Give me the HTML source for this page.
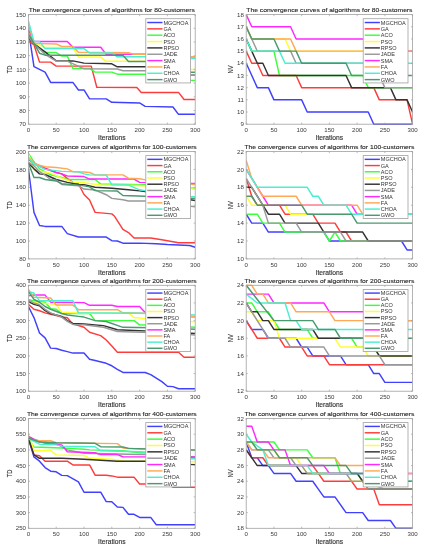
<!DOCTYPE html><html><head><meta charset="utf-8"><style>html,body{margin:0;padding:0;background:#fff;width:423px;height:550px;overflow:hidden}svg{display:block;will-change:transform}text{font-family:"Liberation Sans",sans-serif}</style></head><body>
<svg width="423" height="550" viewBox="0 0 423 550"><rect width="423" height="550" fill="#fff"/>
<g><clipPath id="c0"><rect x="28.4" y="13.6" width="166.8" height="111.6"/></clipPath><g clip-path="url(#c0)" fill="none" stroke-width="1.45" stroke-linejoin="round"><polyline stroke="#4040ff" points="28.4,29.67 33.96,66.66 45.08,72.14 50.64,82.41 72.88,82.41 78.44,89.95 84,89.95 89.56,98.86 106.24,98.86 111.8,102.28 139.6,102.97 145.16,106.39 172.96,106.94 178.52,114.34 195.2,114.34"/><polyline stroke="#ff3c3c" points="28.4,41.31 33.96,44.74 39.52,62.14 50.64,62.14 56.2,66.11 91.23,66.11 96.79,87.21 136.82,87.48 141.27,92.42 178.52,92.42 184.08,99.54 195.2,99.54"/><polyline stroke="#3cff3c" points="28.4,35.15 33.96,43.37 45.08,52.55 56.2,52.55 61.76,56.11 67.32,56.11 72.88,68.44 89.56,68.44 95.12,72.14 111.8,72.14 117.36,74.19 167.4,74.19 172.96,80.36 195.2,80.36"/><polyline stroke="#ffff30" points="28.4,32.41 33.96,42.68 45.08,47.48 72.88,47.48 78.44,57.07 100.68,57.07 106.24,61.32 167.4,61.32 172.96,69.4 195.2,69.4"/><polyline stroke="#333333" points="28.4,37.34 33.96,43.92 45.08,51.86 56.2,60.91 72.88,60.91 84,63.1 111.8,63.78 117.36,66.8 167.4,66.8 172.96,74.88 195.2,74.88"/><polyline stroke="#999999" points="28.4,36.52 33.96,44.05 45.08,54.33 56.2,61.18 67.32,61.18 84,68.85 117.36,68.99 122.92,70.77 167.4,70.77 172.96,74.74 195.2,74.74"/><polyline stroke="#ff28ff" points="28.4,29.67 33.96,41.59 39.52,41.59 67.32,41.59 72.88,47.21 100.68,47.21 106.24,54.33 167.4,54.33 172.96,56.8 195.2,56.8"/><polyline stroke="#ffa858" points="28.4,24.87 33.96,43.37 56.2,43.92 61.76,46.52 72.88,46.52 78.44,52.28 128.48,52.69 134.04,54.33 167.4,54.33 172.96,56.8 195.2,56.8"/><polyline stroke="#48f0d0" points="28.4,20.9 33.96,41.59 39.52,41.59 45.08,48.58 84,48.58 89.56,52.96 111.8,52.96 117.36,56.8 167.4,56.8 172.96,58.58 195.2,58.58"/><polyline stroke="#4a9a70" points="28.4,33.78 33.96,43.37 39.52,53.23 45.08,55.15 122.92,55.15 128.48,61.45 167.4,61.45 172.96,72.28 195.2,72.28"/></g><rect x="28.4" y="14.6" width="166.8" height="109.6" fill="none" stroke="#a0a0a0" stroke-width="0.8"/><path d="M28.4 124.2V122.6M28.4 14.6V16.2" stroke="#a0a0a0" stroke-width="0.7"/><text x="28.4" y="132.2" font-size="6.1" fill="#3a3a3a" text-anchor="middle">0</text><path d="M56.2 124.2V122.6M56.2 14.6V16.2" stroke="#a0a0a0" stroke-width="0.7"/><text x="56.2" y="132.2" font-size="6.1" fill="#3a3a3a" text-anchor="middle">50</text><path d="M84 124.2V122.6M84 14.6V16.2" stroke="#a0a0a0" stroke-width="0.7"/><text x="84" y="132.2" font-size="6.1" fill="#3a3a3a" text-anchor="middle">100</text><path d="M111.8 124.2V122.6M111.8 14.6V16.2" stroke="#a0a0a0" stroke-width="0.7"/><text x="111.8" y="132.2" font-size="6.1" fill="#3a3a3a" text-anchor="middle">150</text><path d="M139.6 124.2V122.6M139.6 14.6V16.2" stroke="#a0a0a0" stroke-width="0.7"/><text x="139.6" y="132.2" font-size="6.1" fill="#3a3a3a" text-anchor="middle">200</text><path d="M167.4 124.2V122.6M167.4 14.6V16.2" stroke="#a0a0a0" stroke-width="0.7"/><text x="167.4" y="132.2" font-size="6.1" fill="#3a3a3a" text-anchor="middle">250</text><path d="M195.2 124.2V122.6M195.2 14.6V16.2" stroke="#a0a0a0" stroke-width="0.7"/><text x="195.2" y="132.2" font-size="6.1" fill="#3a3a3a" text-anchor="middle">300</text><path d="M28.4 124.2H30M195.2 124.2H193.6" stroke="#a0a0a0" stroke-width="0.7"/><text x="26" y="126.3" font-size="6.1" fill="#3a3a3a" text-anchor="end">70</text><path d="M28.4 110.5H30M195.2 110.5H193.6" stroke="#a0a0a0" stroke-width="0.7"/><text x="26" y="112.6" font-size="6.1" fill="#3a3a3a" text-anchor="end">80</text><path d="M28.4 96.8H30M195.2 96.8H193.6" stroke="#a0a0a0" stroke-width="0.7"/><text x="26" y="98.9" font-size="6.1" fill="#3a3a3a" text-anchor="end">90</text><path d="M28.4 83.1H30M195.2 83.1H193.6" stroke="#a0a0a0" stroke-width="0.7"/><text x="26" y="85.2" font-size="6.1" fill="#3a3a3a" text-anchor="end">100</text><path d="M28.4 69.4H30M195.2 69.4H193.6" stroke="#a0a0a0" stroke-width="0.7"/><text x="26" y="71.5" font-size="6.1" fill="#3a3a3a" text-anchor="end">110</text><path d="M28.4 55.7H30M195.2 55.7H193.6" stroke="#a0a0a0" stroke-width="0.7"/><text x="26" y="57.8" font-size="6.1" fill="#3a3a3a" text-anchor="end">120</text><path d="M28.4 42H30M195.2 42H193.6" stroke="#a0a0a0" stroke-width="0.7"/><text x="26" y="44.1" font-size="6.1" fill="#3a3a3a" text-anchor="end">130</text><path d="M28.4 28.3H30M195.2 28.3H193.6" stroke="#a0a0a0" stroke-width="0.7"/><text x="26" y="30.4" font-size="6.1" fill="#3a3a3a" text-anchor="end">140</text><path d="M28.4 14.6H30M195.2 14.6H193.6" stroke="#a0a0a0" stroke-width="0.7"/><text x="26" y="16.7" font-size="6.1" fill="#3a3a3a" text-anchor="end">150</text><text transform="translate(111.8,12.3) scale(1.162,1)" font-size="5.8" fill="#222" stroke="#222" stroke-width="0.1" text-anchor="middle">The convergence curves of algorithms for 80-customers</text><text x="111.8" y="140" font-size="6.7" fill="#333" stroke="#333" stroke-width="0.14" text-anchor="middle">Iterations</text><text transform="translate(12.1,69.4) rotate(-90)" font-size="6.9" textLength="7.6" lengthAdjust="spacingAndGlyphs" x="-3.8" fill="#333" stroke="#333" stroke-width="0.14">TD</text><rect x="145.8" y="18.7" width="44.8" height="64.23" fill="#fff" stroke="#a0a0a0" stroke-width="0.8"/><line x1="147.3" y1="22.52" x2="162.5" y2="22.52" stroke="#4040ff" stroke-width="1.45"/><text x="163.4" y="24.52" font-size="5.55" fill="#333">MGCHOA</text><line x1="147.3" y1="28.86" x2="162.5" y2="28.86" stroke="#ff3c3c" stroke-width="1.45"/><text x="163.4" y="30.86" font-size="5.55" fill="#333">GA</text><line x1="147.3" y1="35.21" x2="162.5" y2="35.21" stroke="#3cff3c" stroke-width="1.45"/><text x="163.4" y="37.21" font-size="5.55" fill="#333">ACO</text><line x1="147.3" y1="41.55" x2="162.5" y2="41.55" stroke="#ffff30" stroke-width="1.45"/><text x="163.4" y="43.55" font-size="5.55" fill="#333">PSO</text><line x1="147.3" y1="47.9" x2="162.5" y2="47.9" stroke="#333333" stroke-width="1.45"/><text x="163.4" y="49.9" font-size="5.55" fill="#333">RPSO</text><line x1="147.3" y1="54.24" x2="162.5" y2="54.24" stroke="#999999" stroke-width="1.45"/><text x="163.4" y="56.24" font-size="5.55" fill="#333">JADE</text><line x1="147.3" y1="60.59" x2="162.5" y2="60.59" stroke="#ff28ff" stroke-width="1.45"/><text x="163.4" y="62.59" font-size="5.55" fill="#333">SMA</text><line x1="147.3" y1="66.93" x2="162.5" y2="66.93" stroke="#ffa858" stroke-width="1.45"/><text x="163.4" y="68.93" font-size="5.55" fill="#333">FA</text><line x1="147.3" y1="73.28" x2="162.5" y2="73.28" stroke="#48f0d0" stroke-width="1.45"/><text x="163.4" y="75.28" font-size="5.55" fill="#333">CHOA</text><line x1="147.3" y1="79.62" x2="162.5" y2="79.62" stroke="#4a9a70" stroke-width="1.45"/><text x="163.4" y="81.62" font-size="5.55" fill="#333">GWO</text></g>
<g><clipPath id="c1"><rect x="246.2" y="13.6" width="166.4" height="111.6"/></clipPath><g clip-path="url(#c1)" fill="none" stroke-width="1.45" stroke-linejoin="round"><polyline stroke="#4040ff" points="246.2,63.31 257.29,87.67 268.39,87.67 273.93,99.84 301.67,99.84 307.21,112.02 368.23,112.02 373.77,124.2 412.6,124.2"/><polyline stroke="#ff3c3c" points="246.2,51.13 251.75,63.31 257.29,63.31 262.84,75.49 296.12,75.49 301.67,87.67 373.77,87.67 379.32,99.84 407.05,99.84 412.6,124.2"/><polyline stroke="#3cff3c" points="246.2,38.96 251.75,51.13 273.93,51.13 279.48,75.49 362.68,75.49 368.23,87.67 412.6,87.67"/><polyline stroke="#ffff30" points="246.2,26.78 251.75,38.96 285.03,38.96 290.57,51.13 412.6,51.13"/><polyline stroke="#333333" points="246.2,38.96 251.75,51.13 257.29,63.31 262.84,63.31 268.39,75.49 346.04,75.49 351.59,87.67 390.41,87.67 395.96,99.84 407.05,99.84 412.6,112.02"/><polyline stroke="#999999" points="246.2,26.78 251.75,38.96 257.29,51.13 290.57,51.13 296.12,63.31 373.77,63.31 379.32,75.49 384.87,87.67 412.6,87.67"/><polyline stroke="#ff28ff" points="246.2,14.6 251.75,26.78 290.57,26.78 296.12,38.96 384.87,38.96 390.41,51.13 412.6,51.13"/><polyline stroke="#ffa858" points="246.2,26.78 251.75,38.96 290.57,38.96 296.12,51.13 412.6,51.13"/><polyline stroke="#48f0d0" points="246.2,38.96 251.75,51.13 279.48,51.13 285.03,63.31 412.6,63.31"/><polyline stroke="#4a9a70" points="246.2,26.78 251.75,38.96 273.93,38.96 279.48,51.13 296.12,51.13 301.67,63.31 346.04,63.31 351.59,75.49 412.6,75.49"/></g><rect x="246.2" y="14.6" width="166.4" height="109.6" fill="none" stroke="#a0a0a0" stroke-width="0.8"/><path d="M246.2 124.2V122.6M246.2 14.6V16.2" stroke="#a0a0a0" stroke-width="0.7"/><text x="246.2" y="132.2" font-size="6.1" fill="#3a3a3a" text-anchor="middle">0</text><path d="M273.93 124.2V122.6M273.93 14.6V16.2" stroke="#a0a0a0" stroke-width="0.7"/><text x="273.93" y="132.2" font-size="6.1" fill="#3a3a3a" text-anchor="middle">50</text><path d="M301.67 124.2V122.6M301.67 14.6V16.2" stroke="#a0a0a0" stroke-width="0.7"/><text x="301.67" y="132.2" font-size="6.1" fill="#3a3a3a" text-anchor="middle">100</text><path d="M329.4 124.2V122.6M329.4 14.6V16.2" stroke="#a0a0a0" stroke-width="0.7"/><text x="329.4" y="132.2" font-size="6.1" fill="#3a3a3a" text-anchor="middle">150</text><path d="M357.13 124.2V122.6M357.13 14.6V16.2" stroke="#a0a0a0" stroke-width="0.7"/><text x="357.13" y="132.2" font-size="6.1" fill="#3a3a3a" text-anchor="middle">200</text><path d="M384.87 124.2V122.6M384.87 14.6V16.2" stroke="#a0a0a0" stroke-width="0.7"/><text x="384.87" y="132.2" font-size="6.1" fill="#3a3a3a" text-anchor="middle">250</text><path d="M412.6 124.2V122.6M412.6 14.6V16.2" stroke="#a0a0a0" stroke-width="0.7"/><text x="412.6" y="132.2" font-size="6.1" fill="#3a3a3a" text-anchor="middle">300</text><path d="M246.2 124.2H247.8M412.6 124.2H411" stroke="#a0a0a0" stroke-width="0.7"/><text x="243.8" y="126.3" font-size="6.1" fill="#3a3a3a" text-anchor="end">9</text><path d="M246.2 112.02H247.8M412.6 112.02H411" stroke="#a0a0a0" stroke-width="0.7"/><text x="243.8" y="114.12" font-size="6.1" fill="#3a3a3a" text-anchor="end">10</text><path d="M246.2 99.84H247.8M412.6 99.84H411" stroke="#a0a0a0" stroke-width="0.7"/><text x="243.8" y="101.94" font-size="6.1" fill="#3a3a3a" text-anchor="end">11</text><path d="M246.2 87.67H247.8M412.6 87.67H411" stroke="#a0a0a0" stroke-width="0.7"/><text x="243.8" y="89.77" font-size="6.1" fill="#3a3a3a" text-anchor="end">12</text><path d="M246.2 75.49H247.8M412.6 75.49H411" stroke="#a0a0a0" stroke-width="0.7"/><text x="243.8" y="77.59" font-size="6.1" fill="#3a3a3a" text-anchor="end">13</text><path d="M246.2 63.31H247.8M412.6 63.31H411" stroke="#a0a0a0" stroke-width="0.7"/><text x="243.8" y="65.41" font-size="6.1" fill="#3a3a3a" text-anchor="end">14</text><path d="M246.2 51.13H247.8M412.6 51.13H411" stroke="#a0a0a0" stroke-width="0.7"/><text x="243.8" y="53.23" font-size="6.1" fill="#3a3a3a" text-anchor="end">15</text><path d="M246.2 38.96H247.8M412.6 38.96H411" stroke="#a0a0a0" stroke-width="0.7"/><text x="243.8" y="41.06" font-size="6.1" fill="#3a3a3a" text-anchor="end">16</text><path d="M246.2 26.78H247.8M412.6 26.78H411" stroke="#a0a0a0" stroke-width="0.7"/><text x="243.8" y="28.88" font-size="6.1" fill="#3a3a3a" text-anchor="end">17</text><path d="M246.2 14.6H247.8M412.6 14.6H411" stroke="#a0a0a0" stroke-width="0.7"/><text x="243.8" y="16.7" font-size="6.1" fill="#3a3a3a" text-anchor="end">18</text><text transform="translate(329.4,12.3) scale(1.162,1)" font-size="5.8" fill="#222" stroke="#222" stroke-width="0.1" text-anchor="middle">The convergence curves of algorithms for 80-customers</text><text x="329.4" y="140" font-size="6.7" fill="#333" stroke="#333" stroke-width="0.14" text-anchor="middle">Iterations</text><text transform="translate(233.3,69.4) rotate(-90)" font-size="6.9" textLength="8.0" lengthAdjust="spacingAndGlyphs" x="-4.0" fill="#333" stroke="#333" stroke-width="0.14">NV</text><rect x="363.2" y="18.7" width="44.8" height="64.23" fill="#fff" stroke="#a0a0a0" stroke-width="0.8"/><line x1="364.7" y1="22.52" x2="379.9" y2="22.52" stroke="#4040ff" stroke-width="1.45"/><text x="380.8" y="24.52" font-size="5.55" fill="#333">MGCHOA</text><line x1="364.7" y1="28.86" x2="379.9" y2="28.86" stroke="#ff3c3c" stroke-width="1.45"/><text x="380.8" y="30.86" font-size="5.55" fill="#333">GA</text><line x1="364.7" y1="35.21" x2="379.9" y2="35.21" stroke="#3cff3c" stroke-width="1.45"/><text x="380.8" y="37.21" font-size="5.55" fill="#333">ACO</text><line x1="364.7" y1="41.55" x2="379.9" y2="41.55" stroke="#ffff30" stroke-width="1.45"/><text x="380.8" y="43.55" font-size="5.55" fill="#333">PSO</text><line x1="364.7" y1="47.9" x2="379.9" y2="47.9" stroke="#333333" stroke-width="1.45"/><text x="380.8" y="49.9" font-size="5.55" fill="#333">RPSO</text><line x1="364.7" y1="54.24" x2="379.9" y2="54.24" stroke="#999999" stroke-width="1.45"/><text x="380.8" y="56.24" font-size="5.55" fill="#333">JADE</text><line x1="364.7" y1="60.59" x2="379.9" y2="60.59" stroke="#ff28ff" stroke-width="1.45"/><text x="380.8" y="62.59" font-size="5.55" fill="#333">SMA</text><line x1="364.7" y1="66.93" x2="379.9" y2="66.93" stroke="#ffa858" stroke-width="1.45"/><text x="380.8" y="68.93" font-size="5.55" fill="#333">FA</text><line x1="364.7" y1="73.28" x2="379.9" y2="73.28" stroke="#48f0d0" stroke-width="1.45"/><text x="380.8" y="75.28" font-size="5.55" fill="#333">CHOA</text><line x1="364.7" y1="79.62" x2="379.9" y2="79.62" stroke="#4a9a70" stroke-width="1.45"/><text x="380.8" y="81.62" font-size="5.55" fill="#333">GWO</text></g>
<g><clipPath id="c2"><rect x="28.4" y="150.5" width="166.8" height="109.4"/></clipPath><g clip-path="url(#c2)" fill="none" stroke-width="1.45" stroke-linejoin="round"><polyline stroke="#4040ff" points="28.4,168.5 33.96,212.36 39.52,225.43 45.08,226.41 61.76,226.41 67.32,233.57 78.44,237.06 106.24,237.06 111.8,240.73 117.36,241 122.92,243.15 139.6,243.15 156.28,243.68 167.4,244.58 178.52,245.03 189.64,245.47 195.2,247.26"/><polyline stroke="#ff3c3c" points="28.4,163.13 33.96,164.03 39.52,165.82 45.08,168.06 56.2,172.44 61.76,173.88 67.32,178.35 72.88,182.38 78.44,183.72 84,194.46 89.56,200.01 95.12,212.36 111.8,213.88 114.58,216.3 122.92,229.36 128.48,232.59 134.04,238.05 150.72,238.05 161.84,239.84 178.52,242.79 195.2,242.79"/><polyline stroke="#3cff3c" points="28.4,153.29 33.96,161.79 39.52,168.86 50.64,174.77 61.76,177.45 67.32,179.51 95.12,179.51 100.68,183.99 145.16,184.61 172.96,187.3 195.2,188.19"/><polyline stroke="#ffff30" points="28.4,154.19 33.96,169.4 39.52,171.01 50.64,173.16 61.76,178.08 72.88,182.38 84,182.82 100.68,185.06 139.6,185.51 172.96,187.75 195.2,189.27"/><polyline stroke="#333333" points="28.4,163.13 33.96,168.86 39.52,173.88 45.08,174.5 56.2,179.51 67.32,182.38 78.44,184.44 84,184.61 95.12,187.3 111.8,188.19 128.48,189.81 139.6,190.88 145.16,191.42 167.4,196.25 195.2,200.46"/><polyline stroke="#999999" points="28.4,162.24 33.96,165.82 39.52,171.73 45.08,175.22 50.64,179.51 56.2,180.14 61.76,184.44 78.44,185.87 84,189.09 95.12,189.99 106.24,194.73 111.8,198.4 122.92,199.83 128.48,200.99 145.16,200.99 195.2,206.81"/><polyline stroke="#ff28ff" points="28.4,159.56 33.96,163.13 39.52,166 45.08,168.86 56.2,172.44 61.76,173.88 67.32,175.93 84,176.56 89.56,179.07 134.04,179.07 139.6,182.38 172.96,183.45 195.2,183.45"/><polyline stroke="#ffa858" points="28.4,157.5 33.96,163.13 39.52,165.28 45.08,166.72 56.2,167.43 67.32,168.86 72.88,171.73 84,172.08 89.56,172.53 95.12,174.86 122.92,174.86 128.48,178.17 139.6,178.8 145.16,179.87 172.96,183.72 195.2,184.44"/><polyline stroke="#48f0d0" points="28.4,157.76 33.96,164.03 39.52,166.72 45.08,169.4 61.76,171.37 78.44,171.73 84,173.88 89.56,174.86 106.24,175.13 111.8,184.79 128.48,185.06 139.6,189.81 145.16,190.61 172.96,196.25 195.2,196.79"/><polyline stroke="#4a9a70" points="28.4,163.13 33.96,177.45 39.52,177.45 45.08,179.51 56.2,180.95 61.76,183.72 78.44,185.15 84,185.87 89.56,186.85 95.12,190.61 117.36,191.06 122.92,195.53 145.16,196.25 172.96,198.04 195.2,198.58"/></g><rect x="28.4" y="151.5" width="166.8" height="107.4" fill="none" stroke="#a0a0a0" stroke-width="0.8"/><path d="M28.4 258.9V257.3M28.4 151.5V153.1" stroke="#a0a0a0" stroke-width="0.7"/><text x="28.4" y="266.9" font-size="6.1" fill="#3a3a3a" text-anchor="middle">0</text><path d="M56.2 258.9V257.3M56.2 151.5V153.1" stroke="#a0a0a0" stroke-width="0.7"/><text x="56.2" y="266.9" font-size="6.1" fill="#3a3a3a" text-anchor="middle">50</text><path d="M84 258.9V257.3M84 151.5V153.1" stroke="#a0a0a0" stroke-width="0.7"/><text x="84" y="266.9" font-size="6.1" fill="#3a3a3a" text-anchor="middle">100</text><path d="M111.8 258.9V257.3M111.8 151.5V153.1" stroke="#a0a0a0" stroke-width="0.7"/><text x="111.8" y="266.9" font-size="6.1" fill="#3a3a3a" text-anchor="middle">150</text><path d="M139.6 258.9V257.3M139.6 151.5V153.1" stroke="#a0a0a0" stroke-width="0.7"/><text x="139.6" y="266.9" font-size="6.1" fill="#3a3a3a" text-anchor="middle">200</text><path d="M167.4 258.9V257.3M167.4 151.5V153.1" stroke="#a0a0a0" stroke-width="0.7"/><text x="167.4" y="266.9" font-size="6.1" fill="#3a3a3a" text-anchor="middle">250</text><path d="M195.2 258.9V257.3M195.2 151.5V153.1" stroke="#a0a0a0" stroke-width="0.7"/><text x="195.2" y="266.9" font-size="6.1" fill="#3a3a3a" text-anchor="middle">300</text><path d="M28.4 258.9H30M195.2 258.9H193.6" stroke="#a0a0a0" stroke-width="0.7"/><text x="26" y="261" font-size="6.1" fill="#3a3a3a" text-anchor="end">80</text><path d="M28.4 241H30M195.2 241H193.6" stroke="#a0a0a0" stroke-width="0.7"/><text x="26" y="243.1" font-size="6.1" fill="#3a3a3a" text-anchor="end">100</text><path d="M28.4 223.1H30M195.2 223.1H193.6" stroke="#a0a0a0" stroke-width="0.7"/><text x="26" y="225.2" font-size="6.1" fill="#3a3a3a" text-anchor="end">120</text><path d="M28.4 205.2H30M195.2 205.2H193.6" stroke="#a0a0a0" stroke-width="0.7"/><text x="26" y="207.3" font-size="6.1" fill="#3a3a3a" text-anchor="end">140</text><path d="M28.4 187.3H30M195.2 187.3H193.6" stroke="#a0a0a0" stroke-width="0.7"/><text x="26" y="189.4" font-size="6.1" fill="#3a3a3a" text-anchor="end">160</text><path d="M28.4 169.4H30M195.2 169.4H193.6" stroke="#a0a0a0" stroke-width="0.7"/><text x="26" y="171.5" font-size="6.1" fill="#3a3a3a" text-anchor="end">180</text><path d="M28.4 151.5H30M195.2 151.5H193.6" stroke="#a0a0a0" stroke-width="0.7"/><text x="26" y="153.6" font-size="6.1" fill="#3a3a3a" text-anchor="end">200</text><text transform="translate(111.8,149.2) scale(1.162,1)" font-size="5.8" fill="#222" stroke="#222" stroke-width="0.1" text-anchor="middle">The convergence curves of algorithms for 100-customers</text><text x="111.8" y="274.7" font-size="6.7" fill="#333" stroke="#333" stroke-width="0.14" text-anchor="middle">Iterations</text><text transform="translate(12.1,205.2) rotate(-90)" font-size="6.9" textLength="7.6" lengthAdjust="spacingAndGlyphs" x="-3.8" fill="#333" stroke="#333" stroke-width="0.14">TD</text><rect x="145.8" y="155.6" width="44.8" height="62.94" fill="#fff" stroke="#a0a0a0" stroke-width="0.8"/><line x1="147.3" y1="159.34" x2="162.5" y2="159.34" stroke="#4040ff" stroke-width="1.45"/><text x="163.4" y="161.34" font-size="5.55" fill="#333">MGCHOA</text><line x1="147.3" y1="165.56" x2="162.5" y2="165.56" stroke="#ff3c3c" stroke-width="1.45"/><text x="163.4" y="167.56" font-size="5.55" fill="#333">GA</text><line x1="147.3" y1="171.77" x2="162.5" y2="171.77" stroke="#3cff3c" stroke-width="1.45"/><text x="163.4" y="173.77" font-size="5.55" fill="#333">ACO</text><line x1="147.3" y1="177.99" x2="162.5" y2="177.99" stroke="#ffff30" stroke-width="1.45"/><text x="163.4" y="179.99" font-size="5.55" fill="#333">PSO</text><line x1="147.3" y1="184.21" x2="162.5" y2="184.21" stroke="#333333" stroke-width="1.45"/><text x="163.4" y="186.21" font-size="5.55" fill="#333">RPSO</text><line x1="147.3" y1="190.43" x2="162.5" y2="190.43" stroke="#999999" stroke-width="1.45"/><text x="163.4" y="192.43" font-size="5.55" fill="#333">JADE</text><line x1="147.3" y1="196.65" x2="162.5" y2="196.65" stroke="#ff28ff" stroke-width="1.45"/><text x="163.4" y="198.65" font-size="5.55" fill="#333">SMA</text><line x1="147.3" y1="202.87" x2="162.5" y2="202.87" stroke="#ffa858" stroke-width="1.45"/><text x="163.4" y="204.87" font-size="5.55" fill="#333">FA</text><line x1="147.3" y1="209.08" x2="162.5" y2="209.08" stroke="#48f0d0" stroke-width="1.45"/><text x="163.4" y="211.08" font-size="5.55" fill="#333">CHOA</text><line x1="147.3" y1="215.3" x2="162.5" y2="215.3" stroke="#4a9a70" stroke-width="1.45"/><text x="163.4" y="217.3" font-size="5.55" fill="#333">GWO</text></g>
<g><clipPath id="c3"><rect x="246.2" y="150.5" width="166.4" height="109.4"/></clipPath><g clip-path="url(#c3)" fill="none" stroke-width="1.45" stroke-linejoin="round"><polyline stroke="#4040ff" points="246.2,214.15 251.75,223.1 262.84,223.1 268.39,232.05 323.85,232.05 329.4,241 401.51,241 407.05,249.95 412.6,249.95"/><polyline stroke="#ff3c3c" points="246.2,178.35 251.75,196.25 257.29,205.2 279.48,205.2 285.03,214.15 312.76,214.15 318.31,223.1 334.95,223.1 340.49,232.05 346.04,232.05 351.59,241 412.6,241"/><polyline stroke="#3cff3c" points="246.2,214.15 257.29,214.15 262.84,223.1 279.48,223.1 285.03,232.05 323.85,232.05 329.4,241 334.95,232.05 340.49,241 412.6,241"/><polyline stroke="#ffff30" points="246.2,196.25 251.75,205.2 285.03,205.2 290.57,214.15 412.6,214.15"/><polyline stroke="#333333" points="246.2,187.3 251.75,187.3 262.84,205.2 268.39,214.15 279.48,214.15 285.03,223.1 318.31,223.1 323.85,232.05 362.68,232.05 368.23,241 412.6,241"/><polyline stroke="#999999" points="246.2,178.35 262.84,205.2 268.39,223.1 296.12,223.1 301.67,232.05 340.49,232.05 346.04,241 412.6,241"/><polyline stroke="#ff28ff" points="246.2,169.4 257.29,187.3 262.84,196.25 268.39,205.2 351.59,205.2 357.13,214.15 412.6,214.15"/><polyline stroke="#ffa858" points="246.2,160.45 251.75,178.35 262.84,196.25 296.12,196.25 301.67,205.2 357.13,205.2 362.68,214.15 412.6,214.15"/><polyline stroke="#48f0d0" points="246.2,169.4 257.29,187.3 307.21,187.3 312.76,196.25 318.31,196.25 323.85,205.2 346.04,205.2 351.59,214.15 412.6,214.15"/><polyline stroke="#4a9a70" points="246.2,196.25 251.75,196.25 257.29,205.2 301.67,205.2 307.21,214.15 351.59,214.15 357.13,223.1 412.6,223.1"/></g><rect x="246.2" y="151.5" width="166.4" height="107.4" fill="none" stroke="#a0a0a0" stroke-width="0.8"/><path d="M246.2 258.9V257.3M246.2 151.5V153.1" stroke="#a0a0a0" stroke-width="0.7"/><text x="246.2" y="266.9" font-size="6.1" fill="#3a3a3a" text-anchor="middle">0</text><path d="M273.93 258.9V257.3M273.93 151.5V153.1" stroke="#a0a0a0" stroke-width="0.7"/><text x="273.93" y="266.9" font-size="6.1" fill="#3a3a3a" text-anchor="middle">50</text><path d="M301.67 258.9V257.3M301.67 151.5V153.1" stroke="#a0a0a0" stroke-width="0.7"/><text x="301.67" y="266.9" font-size="6.1" fill="#3a3a3a" text-anchor="middle">100</text><path d="M329.4 258.9V257.3M329.4 151.5V153.1" stroke="#a0a0a0" stroke-width="0.7"/><text x="329.4" y="266.9" font-size="6.1" fill="#3a3a3a" text-anchor="middle">150</text><path d="M357.13 258.9V257.3M357.13 151.5V153.1" stroke="#a0a0a0" stroke-width="0.7"/><text x="357.13" y="266.9" font-size="6.1" fill="#3a3a3a" text-anchor="middle">200</text><path d="M384.87 258.9V257.3M384.87 151.5V153.1" stroke="#a0a0a0" stroke-width="0.7"/><text x="384.87" y="266.9" font-size="6.1" fill="#3a3a3a" text-anchor="middle">250</text><path d="M412.6 258.9V257.3M412.6 151.5V153.1" stroke="#a0a0a0" stroke-width="0.7"/><text x="412.6" y="266.9" font-size="6.1" fill="#3a3a3a" text-anchor="middle">300</text><path d="M246.2 258.9H247.8M412.6 258.9H411" stroke="#a0a0a0" stroke-width="0.7"/><text x="243.8" y="261" font-size="6.1" fill="#3a3a3a" text-anchor="end">10</text><path d="M246.2 241H247.8M412.6 241H411" stroke="#a0a0a0" stroke-width="0.7"/><text x="243.8" y="243.1" font-size="6.1" fill="#3a3a3a" text-anchor="end">12</text><path d="M246.2 223.1H247.8M412.6 223.1H411" stroke="#a0a0a0" stroke-width="0.7"/><text x="243.8" y="225.2" font-size="6.1" fill="#3a3a3a" text-anchor="end">14</text><path d="M246.2 205.2H247.8M412.6 205.2H411" stroke="#a0a0a0" stroke-width="0.7"/><text x="243.8" y="207.3" font-size="6.1" fill="#3a3a3a" text-anchor="end">16</text><path d="M246.2 187.3H247.8M412.6 187.3H411" stroke="#a0a0a0" stroke-width="0.7"/><text x="243.8" y="189.4" font-size="6.1" fill="#3a3a3a" text-anchor="end">18</text><path d="M246.2 169.4H247.8M412.6 169.4H411" stroke="#a0a0a0" stroke-width="0.7"/><text x="243.8" y="171.5" font-size="6.1" fill="#3a3a3a" text-anchor="end">20</text><path d="M246.2 151.5H247.8M412.6 151.5H411" stroke="#a0a0a0" stroke-width="0.7"/><text x="243.8" y="153.6" font-size="6.1" fill="#3a3a3a" text-anchor="end">22</text><text transform="translate(329.4,149.2) scale(1.162,1)" font-size="5.8" fill="#222" stroke="#222" stroke-width="0.1" text-anchor="middle">The convergence curves of algorithms for 100-customers</text><text x="329.4" y="274.7" font-size="6.7" fill="#333" stroke="#333" stroke-width="0.14" text-anchor="middle">Iterations</text><text transform="translate(233.3,205.2) rotate(-90)" font-size="6.9" textLength="8.0" lengthAdjust="spacingAndGlyphs" x="-4.0" fill="#333" stroke="#333" stroke-width="0.14">NV</text><rect x="363.2" y="155.6" width="44.8" height="62.94" fill="#fff" stroke="#a0a0a0" stroke-width="0.8"/><line x1="364.7" y1="159.34" x2="379.9" y2="159.34" stroke="#4040ff" stroke-width="1.45"/><text x="380.8" y="161.34" font-size="5.55" fill="#333">MGCHOA</text><line x1="364.7" y1="165.56" x2="379.9" y2="165.56" stroke="#ff3c3c" stroke-width="1.45"/><text x="380.8" y="167.56" font-size="5.55" fill="#333">GA</text><line x1="364.7" y1="171.77" x2="379.9" y2="171.77" stroke="#3cff3c" stroke-width="1.45"/><text x="380.8" y="173.77" font-size="5.55" fill="#333">ACO</text><line x1="364.7" y1="177.99" x2="379.9" y2="177.99" stroke="#ffff30" stroke-width="1.45"/><text x="380.8" y="179.99" font-size="5.55" fill="#333">PSO</text><line x1="364.7" y1="184.21" x2="379.9" y2="184.21" stroke="#333333" stroke-width="1.45"/><text x="380.8" y="186.21" font-size="5.55" fill="#333">RPSO</text><line x1="364.7" y1="190.43" x2="379.9" y2="190.43" stroke="#999999" stroke-width="1.45"/><text x="380.8" y="192.43" font-size="5.55" fill="#333">JADE</text><line x1="364.7" y1="196.65" x2="379.9" y2="196.65" stroke="#ff28ff" stroke-width="1.45"/><text x="380.8" y="198.65" font-size="5.55" fill="#333">SMA</text><line x1="364.7" y1="202.87" x2="379.9" y2="202.87" stroke="#ffa858" stroke-width="1.45"/><text x="380.8" y="204.87" font-size="5.55" fill="#333">FA</text><line x1="364.7" y1="209.08" x2="379.9" y2="209.08" stroke="#48f0d0" stroke-width="1.45"/><text x="380.8" y="211.08" font-size="5.55" fill="#333">CHOA</text><line x1="364.7" y1="215.3" x2="379.9" y2="215.3" stroke="#4a9a70" stroke-width="1.45"/><text x="380.8" y="217.3" font-size="5.55" fill="#333">GWO</text></g>
<g><clipPath id="c4"><rect x="28.4" y="284.3" width="166.8" height="107.9"/></clipPath><g clip-path="url(#c4)" fill="none" stroke-width="1.45" stroke-linejoin="round"><polyline stroke="#4040ff" points="28.4,306.48 33.96,317.6 39.52,332.95 45.08,337.9 50.64,348.13 56.2,348.49 61.76,350.25 67.32,351.66 72.88,353.08 84,353.08 89.56,359.18 95.12,360.49 106.24,363.31 111.8,365.78 117.36,369.31 122.92,372.49 145.16,372.49 150.72,374.61 156.28,378.14 161.84,381.67 167.4,386.26 172.96,386.61 178.52,388.73 195.2,388.73"/><polyline stroke="#ff3c3c" points="28.4,304.36 33.96,309.3 39.52,310.72 45.08,312.83 50.64,314.25 56.2,315.66 61.76,317.07 67.32,317.78 72.88,324.13 78.44,325.54 84,327.31 89.56,332.25 100.68,335.57 106.24,340.01 111.8,346.02 117.36,352.16 178.52,352.16 184.08,357.31 195.2,357.31"/><polyline stroke="#3cff3c" points="28.4,299.42 33.96,300.83 39.52,301.54 45.08,302.24 50.64,308.6 56.2,309.3 61.76,313.54 89.56,313.54 95.12,320.6 134.04,320.6 139.6,324.84 167.4,325.89 195.2,327.31"/><polyline stroke="#ffff30" points="28.4,301.19 33.96,302.24 39.52,302.95 56.2,304.36 61.76,312.13 84,313.19 128.48,313.19 134.04,317.42 167.4,320.6 195.2,321.8"/><polyline stroke="#333333" points="28.4,301.54 33.96,304.36 39.52,305.77 45.08,310.72 50.64,313.54 61.76,316.36 67.32,320.6 72.88,323.42 84,323.95 103.46,325.61 117.36,329.78 167.4,331.9 195.2,333.48"/><polyline stroke="#999999" points="28.4,300.13 33.96,302.95 39.52,304.72 45.08,309.3 50.64,312.83 61.76,317.07 67.32,321.31 72.88,324.48 84,324.84 103.46,327.31 117.36,331.54 167.4,332.95 195.2,335.07"/><polyline stroke="#ff28ff" points="28.4,295.89 33.96,295.08 45.08,295.08 50.64,302.17 84,302.6 89.56,305.28 111.8,305.28 117.36,306.48 139.6,306.48 145.16,312.48 167.4,315.31 195.2,316.72"/><polyline stroke="#ffa858" points="28.4,289.54 33.96,297.3 50.64,298.01 56.2,305.07 72.88,305.07 78.44,309.66 117.36,309.66 122.92,312.83 161.84,313.54 167.4,316.72 195.2,316.72"/><polyline stroke="#48f0d0" points="28.4,291.65 33.96,293.07 39.52,300.83 72.88,300.83 78.44,312.83 139.6,313.19 195.2,314.95"/><polyline stroke="#4a9a70" points="28.4,291.65 33.96,299.42 39.52,302.24 45.08,306.48 50.64,309.3 61.76,313.54 67.32,314.95 78.44,316.36 84,317.07 95.12,320.6 106.24,321.48 122.92,327.31 167.4,328.01 195.2,329.28"/></g><rect x="28.4" y="285.3" width="166.8" height="105.9" fill="none" stroke="#a0a0a0" stroke-width="0.8"/><path d="M28.4 391.2V389.6M28.4 285.3V286.9" stroke="#a0a0a0" stroke-width="0.7"/><text x="28.4" y="399.2" font-size="6.1" fill="#3a3a3a" text-anchor="middle">0</text><path d="M56.2 391.2V389.6M56.2 285.3V286.9" stroke="#a0a0a0" stroke-width="0.7"/><text x="56.2" y="399.2" font-size="6.1" fill="#3a3a3a" text-anchor="middle">50</text><path d="M84 391.2V389.6M84 285.3V286.9" stroke="#a0a0a0" stroke-width="0.7"/><text x="84" y="399.2" font-size="6.1" fill="#3a3a3a" text-anchor="middle">100</text><path d="M111.8 391.2V389.6M111.8 285.3V286.9" stroke="#a0a0a0" stroke-width="0.7"/><text x="111.8" y="399.2" font-size="6.1" fill="#3a3a3a" text-anchor="middle">150</text><path d="M139.6 391.2V389.6M139.6 285.3V286.9" stroke="#a0a0a0" stroke-width="0.7"/><text x="139.6" y="399.2" font-size="6.1" fill="#3a3a3a" text-anchor="middle">200</text><path d="M167.4 391.2V389.6M167.4 285.3V286.9" stroke="#a0a0a0" stroke-width="0.7"/><text x="167.4" y="399.2" font-size="6.1" fill="#3a3a3a" text-anchor="middle">250</text><path d="M195.2 391.2V389.6M195.2 285.3V286.9" stroke="#a0a0a0" stroke-width="0.7"/><text x="195.2" y="399.2" font-size="6.1" fill="#3a3a3a" text-anchor="middle">300</text><path d="M28.4 391.2H30M195.2 391.2H193.6" stroke="#a0a0a0" stroke-width="0.7"/><text x="26" y="393.3" font-size="6.1" fill="#3a3a3a" text-anchor="end">100</text><path d="M28.4 373.55H30M195.2 373.55H193.6" stroke="#a0a0a0" stroke-width="0.7"/><text x="26" y="375.65" font-size="6.1" fill="#3a3a3a" text-anchor="end">150</text><path d="M28.4 355.9H30M195.2 355.9H193.6" stroke="#a0a0a0" stroke-width="0.7"/><text x="26" y="358" font-size="6.1" fill="#3a3a3a" text-anchor="end">200</text><path d="M28.4 338.25H30M195.2 338.25H193.6" stroke="#a0a0a0" stroke-width="0.7"/><text x="26" y="340.35" font-size="6.1" fill="#3a3a3a" text-anchor="end">250</text><path d="M28.4 320.6H30M195.2 320.6H193.6" stroke="#a0a0a0" stroke-width="0.7"/><text x="26" y="322.7" font-size="6.1" fill="#3a3a3a" text-anchor="end">300</text><path d="M28.4 302.95H30M195.2 302.95H193.6" stroke="#a0a0a0" stroke-width="0.7"/><text x="26" y="305.05" font-size="6.1" fill="#3a3a3a" text-anchor="end">350</text><path d="M28.4 285.3H30M195.2 285.3H193.6" stroke="#a0a0a0" stroke-width="0.7"/><text x="26" y="287.4" font-size="6.1" fill="#3a3a3a" text-anchor="end">400</text><text transform="translate(111.8,283) scale(1.162,1)" font-size="5.8" fill="#222" stroke="#222" stroke-width="0.1" text-anchor="middle">The convergence curves of algorithms for 200-customers</text><text x="111.8" y="407" font-size="6.7" fill="#333" stroke="#333" stroke-width="0.14" text-anchor="middle">Iterations</text><text transform="translate(12.1,338.25) rotate(-90)" font-size="6.9" textLength="7.6" lengthAdjust="spacingAndGlyphs" x="-3.8" fill="#333" stroke="#333" stroke-width="0.14">TD</text><rect x="145.8" y="289.4" width="44.8" height="62.06" fill="#fff" stroke="#a0a0a0" stroke-width="0.8"/><line x1="147.3" y1="293.09" x2="162.5" y2="293.09" stroke="#4040ff" stroke-width="1.45"/><text x="163.4" y="295.09" font-size="5.55" fill="#333">MGCHOA</text><line x1="147.3" y1="299.22" x2="162.5" y2="299.22" stroke="#ff3c3c" stroke-width="1.45"/><text x="163.4" y="301.22" font-size="5.55" fill="#333">GA</text><line x1="147.3" y1="305.35" x2="162.5" y2="305.35" stroke="#3cff3c" stroke-width="1.45"/><text x="163.4" y="307.35" font-size="5.55" fill="#333">ACO</text><line x1="147.3" y1="311.48" x2="162.5" y2="311.48" stroke="#ffff30" stroke-width="1.45"/><text x="163.4" y="313.48" font-size="5.55" fill="#333">PSO</text><line x1="147.3" y1="317.61" x2="162.5" y2="317.61" stroke="#333333" stroke-width="1.45"/><text x="163.4" y="319.61" font-size="5.55" fill="#333">RPSO</text><line x1="147.3" y1="323.74" x2="162.5" y2="323.74" stroke="#999999" stroke-width="1.45"/><text x="163.4" y="325.74" font-size="5.55" fill="#333">JADE</text><line x1="147.3" y1="329.87" x2="162.5" y2="329.87" stroke="#ff28ff" stroke-width="1.45"/><text x="163.4" y="331.87" font-size="5.55" fill="#333">SMA</text><line x1="147.3" y1="336.01" x2="162.5" y2="336.01" stroke="#ffa858" stroke-width="1.45"/><text x="163.4" y="338.01" font-size="5.55" fill="#333">FA</text><line x1="147.3" y1="342.14" x2="162.5" y2="342.14" stroke="#48f0d0" stroke-width="1.45"/><text x="163.4" y="344.14" font-size="5.55" fill="#333">CHOA</text><line x1="147.3" y1="348.27" x2="162.5" y2="348.27" stroke="#4a9a70" stroke-width="1.45"/><text x="163.4" y="350.27" font-size="5.55" fill="#333">GWO</text></g>
<g><clipPath id="c5"><rect x="246.2" y="284.3" width="166.4" height="107.9"/></clipPath><g clip-path="url(#c5)" fill="none" stroke-width="1.45" stroke-linejoin="round"><polyline stroke="#4040ff" points="246.2,320.6 251.75,329.43 262.84,329.43 268.39,338.25 296.12,338.25 301.67,347.07 307.21,347.07 312.76,355.9 340.49,355.9 346.04,364.73 368.23,364.73 373.77,373.55 379.32,373.55 384.87,382.38 412.6,382.38"/><polyline stroke="#ff3c3c" points="246.2,320.6 257.29,338.25 279.48,338.25 285.03,347.07 301.67,347.07 307.21,355.9 323.85,355.9 329.4,364.73 412.6,364.73"/><polyline stroke="#3cff3c" points="246.2,302.95 251.75,302.95 257.29,311.77 268.39,311.77 273.93,320.6 279.48,329.43 307.21,329.43 312.76,338.25 351.59,338.25 357.13,347.07 373.77,347.07 379.32,355.9 412.6,355.9"/><polyline stroke="#ffff30" points="246.2,311.77 251.75,311.77 257.29,320.6 273.93,320.6 279.48,338.25 334.95,338.25 340.49,347.07 362.68,347.07 368.23,355.9 412.6,355.9"/><polyline stroke="#333333" points="246.2,302.95 251.75,311.77 257.29,311.77 262.84,320.6 268.39,320.6 273.93,329.43 312.76,329.43 318.31,338.25 368.23,338.25 373.77,347.07 379.32,355.9 412.6,355.9"/><polyline stroke="#999999" points="246.2,302.95 268.39,338.25 285.03,338.25 290.57,347.07 323.85,347.07 329.4,355.9 379.32,355.9 384.87,364.73 412.6,364.73"/><polyline stroke="#ff28ff" points="246.2,294.12 268.39,294.12 273.93,302.95 323.85,302.95 329.4,311.77 384.87,311.77 390.41,320.6 412.6,320.6"/><polyline stroke="#ffa858" points="246.2,285.3 251.75,285.3 257.29,294.12 262.84,294.12 268.39,302.95 290.57,302.95 296.12,311.77 329.4,311.77 334.95,320.6 412.6,320.6"/><polyline stroke="#48f0d0" points="246.2,294.12 257.29,302.95 285.03,302.95 290.57,320.6 296.12,320.6 301.67,329.43 412.6,329.43"/><polyline stroke="#4a9a70" points="246.2,285.3 273.93,320.6 312.76,320.6 318.31,329.43 334.95,329.43 340.49,338.25 412.6,338.25"/></g><rect x="246.2" y="285.3" width="166.4" height="105.9" fill="none" stroke="#a0a0a0" stroke-width="0.8"/><path d="M246.2 391.2V389.6M246.2 285.3V286.9" stroke="#a0a0a0" stroke-width="0.7"/><text x="246.2" y="399.2" font-size="6.1" fill="#3a3a3a" text-anchor="middle">0</text><path d="M273.93 391.2V389.6M273.93 285.3V286.9" stroke="#a0a0a0" stroke-width="0.7"/><text x="273.93" y="399.2" font-size="6.1" fill="#3a3a3a" text-anchor="middle">50</text><path d="M301.67 391.2V389.6M301.67 285.3V286.9" stroke="#a0a0a0" stroke-width="0.7"/><text x="301.67" y="399.2" font-size="6.1" fill="#3a3a3a" text-anchor="middle">100</text><path d="M329.4 391.2V389.6M329.4 285.3V286.9" stroke="#a0a0a0" stroke-width="0.7"/><text x="329.4" y="399.2" font-size="6.1" fill="#3a3a3a" text-anchor="middle">150</text><path d="M357.13 391.2V389.6M357.13 285.3V286.9" stroke="#a0a0a0" stroke-width="0.7"/><text x="357.13" y="399.2" font-size="6.1" fill="#3a3a3a" text-anchor="middle">200</text><path d="M384.87 391.2V389.6M384.87 285.3V286.9" stroke="#a0a0a0" stroke-width="0.7"/><text x="384.87" y="399.2" font-size="6.1" fill="#3a3a3a" text-anchor="middle">250</text><path d="M412.6 391.2V389.6M412.6 285.3V286.9" stroke="#a0a0a0" stroke-width="0.7"/><text x="412.6" y="399.2" font-size="6.1" fill="#3a3a3a" text-anchor="middle">300</text><path d="M246.2 391.2H247.8M412.6 391.2H411" stroke="#a0a0a0" stroke-width="0.7"/><text x="243.8" y="393.3" font-size="6.1" fill="#3a3a3a" text-anchor="end">12</text><path d="M246.2 373.55H247.8M412.6 373.55H411" stroke="#a0a0a0" stroke-width="0.7"/><text x="243.8" y="375.65" font-size="6.1" fill="#3a3a3a" text-anchor="end">14</text><path d="M246.2 355.9H247.8M412.6 355.9H411" stroke="#a0a0a0" stroke-width="0.7"/><text x="243.8" y="358" font-size="6.1" fill="#3a3a3a" text-anchor="end">16</text><path d="M246.2 338.25H247.8M412.6 338.25H411" stroke="#a0a0a0" stroke-width="0.7"/><text x="243.8" y="340.35" font-size="6.1" fill="#3a3a3a" text-anchor="end">18</text><path d="M246.2 320.6H247.8M412.6 320.6H411" stroke="#a0a0a0" stroke-width="0.7"/><text x="243.8" y="322.7" font-size="6.1" fill="#3a3a3a" text-anchor="end">20</text><path d="M246.2 302.95H247.8M412.6 302.95H411" stroke="#a0a0a0" stroke-width="0.7"/><text x="243.8" y="305.05" font-size="6.1" fill="#3a3a3a" text-anchor="end">22</text><path d="M246.2 285.3H247.8M412.6 285.3H411" stroke="#a0a0a0" stroke-width="0.7"/><text x="243.8" y="287.4" font-size="6.1" fill="#3a3a3a" text-anchor="end">24</text><text transform="translate(329.4,283) scale(1.162,1)" font-size="5.8" fill="#222" stroke="#222" stroke-width="0.1" text-anchor="middle">The convergence curves of algorithms for 200-customers</text><text x="329.4" y="407" font-size="6.7" fill="#333" stroke="#333" stroke-width="0.14" text-anchor="middle">Iterations</text><text transform="translate(233.3,338.25) rotate(-90)" font-size="6.9" textLength="8.0" lengthAdjust="spacingAndGlyphs" x="-4.0" fill="#333" stroke="#333" stroke-width="0.14">NV</text><rect x="363.2" y="289.4" width="44.8" height="62.06" fill="#fff" stroke="#a0a0a0" stroke-width="0.8"/><line x1="364.7" y1="293.09" x2="379.9" y2="293.09" stroke="#4040ff" stroke-width="1.45"/><text x="380.8" y="295.09" font-size="5.55" fill="#333">MGCHOA</text><line x1="364.7" y1="299.22" x2="379.9" y2="299.22" stroke="#ff3c3c" stroke-width="1.45"/><text x="380.8" y="301.22" font-size="5.55" fill="#333">GA</text><line x1="364.7" y1="305.35" x2="379.9" y2="305.35" stroke="#3cff3c" stroke-width="1.45"/><text x="380.8" y="307.35" font-size="5.55" fill="#333">ACO</text><line x1="364.7" y1="311.48" x2="379.9" y2="311.48" stroke="#ffff30" stroke-width="1.45"/><text x="380.8" y="313.48" font-size="5.55" fill="#333">PSO</text><line x1="364.7" y1="317.61" x2="379.9" y2="317.61" stroke="#333333" stroke-width="1.45"/><text x="380.8" y="319.61" font-size="5.55" fill="#333">RPSO</text><line x1="364.7" y1="323.74" x2="379.9" y2="323.74" stroke="#999999" stroke-width="1.45"/><text x="380.8" y="325.74" font-size="5.55" fill="#333">JADE</text><line x1="364.7" y1="329.87" x2="379.9" y2="329.87" stroke="#ff28ff" stroke-width="1.45"/><text x="380.8" y="331.87" font-size="5.55" fill="#333">SMA</text><line x1="364.7" y1="336.01" x2="379.9" y2="336.01" stroke="#ffa858" stroke-width="1.45"/><text x="380.8" y="338.01" font-size="5.55" fill="#333">FA</text><line x1="364.7" y1="342.14" x2="379.9" y2="342.14" stroke="#48f0d0" stroke-width="1.45"/><text x="380.8" y="344.14" font-size="5.55" fill="#333">CHOA</text><line x1="364.7" y1="348.27" x2="379.9" y2="348.27" stroke="#4a9a70" stroke-width="1.45"/><text x="380.8" y="350.27" font-size="5.55" fill="#333">GWO</text></g>
<g><clipPath id="c6"><rect x="28.4" y="417.5" width="166.8" height="111.8"/></clipPath><g clip-path="url(#c6)" fill="none" stroke-width="1.45" stroke-linejoin="round"><polyline stroke="#4040ff" points="28.4,438.58 33.96,456.93 39.52,461.17 45.08,467.56 50.64,471.2 56.2,471.83 61.76,475.38 67.32,475.6 78.44,481.87 84,492.22 100.68,492.22 106.24,501.63 111.8,501.73 117.36,506.97 122.92,507.38 128.48,514.28 134.04,514.28 139.6,517.41 150.72,517.41 156.28,524.76 195.2,524.76"/><polyline stroke="#ff3c3c" points="28.4,438.58 33.96,454.89 39.52,455.83 45.08,461.17 67.32,461.17 72.88,464.93 89.56,464.93 95.12,475.19 106.24,475.19 111.8,475.91 117.36,477.16 134.04,477.16 139.6,483.97 167.4,484.07 172.96,487.2 195.2,487.2"/><polyline stroke="#3cff3c" points="28.4,439.21 33.96,447.05 61.76,447.99 72.88,448.62 84,449.24 89.56,449.87 122.92,450.81 139.6,452.69 167.4,452.69 172.96,457.09 195.2,457.09"/><polyline stroke="#ffff30" points="28.4,432.93 33.96,450.5 50.64,450.5 56.2,454.89 84,455.52 89.56,458.34 111.8,459.28 122.92,460.95 167.4,461.48 172.96,461.79 195.2,461.79"/><polyline stroke="#333333" points="28.4,438.58 33.96,454.89 39.52,458.34 61.76,458.34 84,459.28 117.36,461.17 145.16,461.17 150.72,463.05 167.4,463.99 195.2,464.62"/><polyline stroke="#999999" points="28.4,438.26 39.52,442.03 56.2,443.28 67.32,449.87 84,453.32 139.6,454.58 167.4,454.58 172.96,457.09 195.2,457.09"/><polyline stroke="#ff28ff" points="28.4,436.38 33.96,439.21 45.08,443.44 61.76,444.85 67.32,451.75 95.12,452.69 100.68,454.58 117.36,454.58 122.92,456.77 195.2,457.09"/><polyline stroke="#ffa858" points="28.4,439.21 39.52,440.77 50.64,440.77 56.2,442.75 117.36,443.6 122.92,447.99 139.6,448.93 167.4,448.93 172.96,449.87 195.2,449.87"/><polyline stroke="#48f0d0" points="28.4,438.58 39.52,444.22 56.2,444.85 61.76,446.11 95.12,446.73 100.68,450.81 139.6,451.75 167.4,453.01 172.96,458.66 195.2,458.66"/><polyline stroke="#4a9a70" points="28.4,437.95 39.52,442.03 56.2,442.75 95.12,443.28 100.68,446.73 122.92,447.05 128.48,448.4 167.4,449.56 195.2,450"/></g><rect x="28.4" y="418.5" width="166.8" height="109.8" fill="none" stroke="#a0a0a0" stroke-width="0.8"/><path d="M28.4 528.3V526.7M28.4 418.5V420.1" stroke="#a0a0a0" stroke-width="0.7"/><text x="28.4" y="536.3" font-size="6.1" fill="#3a3a3a" text-anchor="middle">0</text><path d="M56.2 528.3V526.7M56.2 418.5V420.1" stroke="#a0a0a0" stroke-width="0.7"/><text x="56.2" y="536.3" font-size="6.1" fill="#3a3a3a" text-anchor="middle">50</text><path d="M84 528.3V526.7M84 418.5V420.1" stroke="#a0a0a0" stroke-width="0.7"/><text x="84" y="536.3" font-size="6.1" fill="#3a3a3a" text-anchor="middle">100</text><path d="M111.8 528.3V526.7M111.8 418.5V420.1" stroke="#a0a0a0" stroke-width="0.7"/><text x="111.8" y="536.3" font-size="6.1" fill="#3a3a3a" text-anchor="middle">150</text><path d="M139.6 528.3V526.7M139.6 418.5V420.1" stroke="#a0a0a0" stroke-width="0.7"/><text x="139.6" y="536.3" font-size="6.1" fill="#3a3a3a" text-anchor="middle">200</text><path d="M167.4 528.3V526.7M167.4 418.5V420.1" stroke="#a0a0a0" stroke-width="0.7"/><text x="167.4" y="536.3" font-size="6.1" fill="#3a3a3a" text-anchor="middle">250</text><path d="M195.2 528.3V526.7M195.2 418.5V420.1" stroke="#a0a0a0" stroke-width="0.7"/><text x="195.2" y="536.3" font-size="6.1" fill="#3a3a3a" text-anchor="middle">300</text><path d="M28.4 528.3H30M195.2 528.3H193.6" stroke="#a0a0a0" stroke-width="0.7"/><text x="26" y="530.4" font-size="6.1" fill="#3a3a3a" text-anchor="end">250</text><path d="M28.4 512.61H30M195.2 512.61H193.6" stroke="#a0a0a0" stroke-width="0.7"/><text x="26" y="514.71" font-size="6.1" fill="#3a3a3a" text-anchor="end">300</text><path d="M28.4 496.93H30M195.2 496.93H193.6" stroke="#a0a0a0" stroke-width="0.7"/><text x="26" y="499.03" font-size="6.1" fill="#3a3a3a" text-anchor="end">350</text><path d="M28.4 481.24H30M195.2 481.24H193.6" stroke="#a0a0a0" stroke-width="0.7"/><text x="26" y="483.34" font-size="6.1" fill="#3a3a3a" text-anchor="end">400</text><path d="M28.4 465.56H30M195.2 465.56H193.6" stroke="#a0a0a0" stroke-width="0.7"/><text x="26" y="467.66" font-size="6.1" fill="#3a3a3a" text-anchor="end">450</text><path d="M28.4 449.87H30M195.2 449.87H193.6" stroke="#a0a0a0" stroke-width="0.7"/><text x="26" y="451.97" font-size="6.1" fill="#3a3a3a" text-anchor="end">500</text><path d="M28.4 434.19H30M195.2 434.19H193.6" stroke="#a0a0a0" stroke-width="0.7"/><text x="26" y="436.29" font-size="6.1" fill="#3a3a3a" text-anchor="end">550</text><path d="M28.4 418.5H30M195.2 418.5H193.6" stroke="#a0a0a0" stroke-width="0.7"/><text x="26" y="420.6" font-size="6.1" fill="#3a3a3a" text-anchor="end">600</text><text transform="translate(111.8,416.2) scale(1.162,1)" font-size="5.8" fill="#222" stroke="#222" stroke-width="0.1" text-anchor="middle">The convergence curves of algorithms for 400-customers</text><text x="111.8" y="544.1" font-size="6.7" fill="#333" stroke="#333" stroke-width="0.14" text-anchor="middle">Iterations</text><text transform="translate(12.1,473.4) rotate(-90)" font-size="6.9" textLength="7.6" lengthAdjust="spacingAndGlyphs" x="-3.8" fill="#333" stroke="#333" stroke-width="0.14">TD</text><rect x="145.8" y="422.6" width="44.8" height="64.34" fill="#fff" stroke="#a0a0a0" stroke-width="0.8"/><line x1="147.3" y1="426.42" x2="162.5" y2="426.42" stroke="#4040ff" stroke-width="1.45"/><text x="163.4" y="428.42" font-size="5.55" fill="#333">MGCHOA</text><line x1="147.3" y1="432.78" x2="162.5" y2="432.78" stroke="#ff3c3c" stroke-width="1.45"/><text x="163.4" y="434.78" font-size="5.55" fill="#333">GA</text><line x1="147.3" y1="439.14" x2="162.5" y2="439.14" stroke="#3cff3c" stroke-width="1.45"/><text x="163.4" y="441.14" font-size="5.55" fill="#333">ACO</text><line x1="147.3" y1="445.49" x2="162.5" y2="445.49" stroke="#ffff30" stroke-width="1.45"/><text x="163.4" y="447.49" font-size="5.55" fill="#333">PSO</text><line x1="147.3" y1="451.85" x2="162.5" y2="451.85" stroke="#333333" stroke-width="1.45"/><text x="163.4" y="453.85" font-size="5.55" fill="#333">RPSO</text><line x1="147.3" y1="458.21" x2="162.5" y2="458.21" stroke="#999999" stroke-width="1.45"/><text x="163.4" y="460.21" font-size="5.55" fill="#333">JADE</text><line x1="147.3" y1="464.56" x2="162.5" y2="464.56" stroke="#ff28ff" stroke-width="1.45"/><text x="163.4" y="466.56" font-size="5.55" fill="#333">SMA</text><line x1="147.3" y1="470.92" x2="162.5" y2="470.92" stroke="#ffa858" stroke-width="1.45"/><text x="163.4" y="472.92" font-size="5.55" fill="#333">FA</text><line x1="147.3" y1="477.28" x2="162.5" y2="477.28" stroke="#48f0d0" stroke-width="1.45"/><text x="163.4" y="479.28" font-size="5.55" fill="#333">CHOA</text><line x1="147.3" y1="483.64" x2="162.5" y2="483.64" stroke="#4a9a70" stroke-width="1.45"/><text x="163.4" y="485.64" font-size="5.55" fill="#333">GWO</text></g>
<g><clipPath id="c7"><rect x="246.2" y="417.5" width="166.4" height="111.8"/></clipPath><g clip-path="url(#c7)" fill="none" stroke-width="1.45" stroke-linejoin="round"><polyline stroke="#4040ff" points="246.2,442.03 251.75,457.71 257.29,457.71 262.84,465.56 268.39,465.56 273.93,473.4 290.57,473.4 296.12,481.24 312.76,481.24 318.31,489.09 323.85,496.93 334.95,496.93 346.04,512.61 362.68,512.61 368.23,520.46 390.41,520.46 395.96,528.3 412.6,528.3"/><polyline stroke="#ff3c3c" points="246.2,449.87 251.75,457.71 262.84,457.71 268.39,465.56 312.76,465.56 318.31,473.4 323.85,481.24 351.59,481.24 357.13,489.09 373.77,489.09 379.32,504.77 412.6,504.77"/><polyline stroke="#3cff3c" points="246.2,442.03 273.93,442.03 279.48,449.87 307.21,449.87 312.76,457.71 334.95,457.71 340.49,473.4 357.13,473.4 362.68,481.24 384.87,489.09 412.6,489.09"/><polyline stroke="#ffff30" points="246.2,442.03 251.75,442.03 257.29,449.87 273.93,449.87 279.48,457.71 296.12,457.71 301.67,465.56 307.21,473.4 346.04,473.4 351.59,481.24 362.68,481.24 368.23,489.09 412.6,489.09"/><polyline stroke="#333333" points="246.2,449.87 257.29,465.56 296.12,465.56 301.67,473.4 357.13,473.4 362.68,481.24 368.23,489.09 412.6,489.09"/><polyline stroke="#999999" points="246.2,442.03 251.75,449.87 268.39,449.87 273.93,457.71 290.57,457.71 296.12,465.56 301.67,465.56 307.21,473.4 346.04,473.4 351.59,481.24 362.68,481.24 368.23,489.09 412.6,489.09"/><polyline stroke="#ff28ff" points="246.2,426.34 251.75,426.34 257.29,442.03 268.39,442.03 273.93,449.87 285.03,449.87 290.57,465.56 323.85,465.56 329.4,473.4 412.6,473.4"/><polyline stroke="#ffa858" points="246.2,442.03 251.75,449.87 262.84,449.87 268.39,457.71 334.95,457.71 340.49,465.56 384.87,465.56 390.41,473.4 412.6,473.4"/><polyline stroke="#48f0d0" points="246.2,434.19 251.75,442.03 262.84,449.87 268.39,465.56 307.21,465.56 312.76,473.4 384.87,473.4 390.41,481.24 412.6,481.24"/><polyline stroke="#4a9a70" points="246.2,442.03 251.75,442.03 257.29,449.87 273.93,449.87 279.48,457.71 307.21,457.71 312.76,465.56 346.04,465.56 351.59,473.4 384.87,473.4 390.41,481.24 412.6,481.24"/></g><rect x="246.2" y="418.5" width="166.4" height="109.8" fill="none" stroke="#a0a0a0" stroke-width="0.8"/><path d="M246.2 528.3V526.7M246.2 418.5V420.1" stroke="#a0a0a0" stroke-width="0.7"/><text x="246.2" y="536.3" font-size="6.1" fill="#3a3a3a" text-anchor="middle">0</text><path d="M273.93 528.3V526.7M273.93 418.5V420.1" stroke="#a0a0a0" stroke-width="0.7"/><text x="273.93" y="536.3" font-size="6.1" fill="#3a3a3a" text-anchor="middle">50</text><path d="M301.67 528.3V526.7M301.67 418.5V420.1" stroke="#a0a0a0" stroke-width="0.7"/><text x="301.67" y="536.3" font-size="6.1" fill="#3a3a3a" text-anchor="middle">100</text><path d="M329.4 528.3V526.7M329.4 418.5V420.1" stroke="#a0a0a0" stroke-width="0.7"/><text x="329.4" y="536.3" font-size="6.1" fill="#3a3a3a" text-anchor="middle">150</text><path d="M357.13 528.3V526.7M357.13 418.5V420.1" stroke="#a0a0a0" stroke-width="0.7"/><text x="357.13" y="536.3" font-size="6.1" fill="#3a3a3a" text-anchor="middle">200</text><path d="M384.87 528.3V526.7M384.87 418.5V420.1" stroke="#a0a0a0" stroke-width="0.7"/><text x="384.87" y="536.3" font-size="6.1" fill="#3a3a3a" text-anchor="middle">250</text><path d="M412.6 528.3V526.7M412.6 418.5V420.1" stroke="#a0a0a0" stroke-width="0.7"/><text x="412.6" y="536.3" font-size="6.1" fill="#3a3a3a" text-anchor="middle">300</text><path d="M246.2 528.3H247.8M412.6 528.3H411" stroke="#a0a0a0" stroke-width="0.7"/><text x="243.8" y="530.4" font-size="6.1" fill="#3a3a3a" text-anchor="end">18</text><path d="M246.2 512.61H247.8M412.6 512.61H411" stroke="#a0a0a0" stroke-width="0.7"/><text x="243.8" y="514.71" font-size="6.1" fill="#3a3a3a" text-anchor="end">20</text><path d="M246.2 496.93H247.8M412.6 496.93H411" stroke="#a0a0a0" stroke-width="0.7"/><text x="243.8" y="499.03" font-size="6.1" fill="#3a3a3a" text-anchor="end">22</text><path d="M246.2 481.24H247.8M412.6 481.24H411" stroke="#a0a0a0" stroke-width="0.7"/><text x="243.8" y="483.34" font-size="6.1" fill="#3a3a3a" text-anchor="end">24</text><path d="M246.2 465.56H247.8M412.6 465.56H411" stroke="#a0a0a0" stroke-width="0.7"/><text x="243.8" y="467.66" font-size="6.1" fill="#3a3a3a" text-anchor="end">26</text><path d="M246.2 449.87H247.8M412.6 449.87H411" stroke="#a0a0a0" stroke-width="0.7"/><text x="243.8" y="451.97" font-size="6.1" fill="#3a3a3a" text-anchor="end">28</text><path d="M246.2 434.19H247.8M412.6 434.19H411" stroke="#a0a0a0" stroke-width="0.7"/><text x="243.8" y="436.29" font-size="6.1" fill="#3a3a3a" text-anchor="end">30</text><path d="M246.2 418.5H247.8M412.6 418.5H411" stroke="#a0a0a0" stroke-width="0.7"/><text x="243.8" y="420.6" font-size="6.1" fill="#3a3a3a" text-anchor="end">32</text><text transform="translate(329.4,416.2) scale(1.162,1)" font-size="5.8" fill="#222" stroke="#222" stroke-width="0.1" text-anchor="middle">The convergence curves of algorithms for 400-customers</text><text x="329.4" y="544.1" font-size="6.7" fill="#333" stroke="#333" stroke-width="0.14" text-anchor="middle">Iterations</text><text transform="translate(233.3,473.4) rotate(-90)" font-size="6.9" textLength="8.0" lengthAdjust="spacingAndGlyphs" x="-4.0" fill="#333" stroke="#333" stroke-width="0.14">NV</text><rect x="363.2" y="422.6" width="44.8" height="64.34" fill="#fff" stroke="#a0a0a0" stroke-width="0.8"/><line x1="364.7" y1="426.42" x2="379.9" y2="426.42" stroke="#4040ff" stroke-width="1.45"/><text x="380.8" y="428.42" font-size="5.55" fill="#333">MGCHOA</text><line x1="364.7" y1="432.78" x2="379.9" y2="432.78" stroke="#ff3c3c" stroke-width="1.45"/><text x="380.8" y="434.78" font-size="5.55" fill="#333">GA</text><line x1="364.7" y1="439.14" x2="379.9" y2="439.14" stroke="#3cff3c" stroke-width="1.45"/><text x="380.8" y="441.14" font-size="5.55" fill="#333">ACO</text><line x1="364.7" y1="445.49" x2="379.9" y2="445.49" stroke="#ffff30" stroke-width="1.45"/><text x="380.8" y="447.49" font-size="5.55" fill="#333">PSO</text><line x1="364.7" y1="451.85" x2="379.9" y2="451.85" stroke="#333333" stroke-width="1.45"/><text x="380.8" y="453.85" font-size="5.55" fill="#333">RPSO</text><line x1="364.7" y1="458.21" x2="379.9" y2="458.21" stroke="#999999" stroke-width="1.45"/><text x="380.8" y="460.21" font-size="5.55" fill="#333">JADE</text><line x1="364.7" y1="464.56" x2="379.9" y2="464.56" stroke="#ff28ff" stroke-width="1.45"/><text x="380.8" y="466.56" font-size="5.55" fill="#333">SMA</text><line x1="364.7" y1="470.92" x2="379.9" y2="470.92" stroke="#ffa858" stroke-width="1.45"/><text x="380.8" y="472.92" font-size="5.55" fill="#333">FA</text><line x1="364.7" y1="477.28" x2="379.9" y2="477.28" stroke="#48f0d0" stroke-width="1.45"/><text x="380.8" y="479.28" font-size="5.55" fill="#333">CHOA</text><line x1="364.7" y1="483.64" x2="379.9" y2="483.64" stroke="#4a9a70" stroke-width="1.45"/><text x="380.8" y="485.64" font-size="5.55" fill="#333">GWO</text></g>
</svg></body></html>
